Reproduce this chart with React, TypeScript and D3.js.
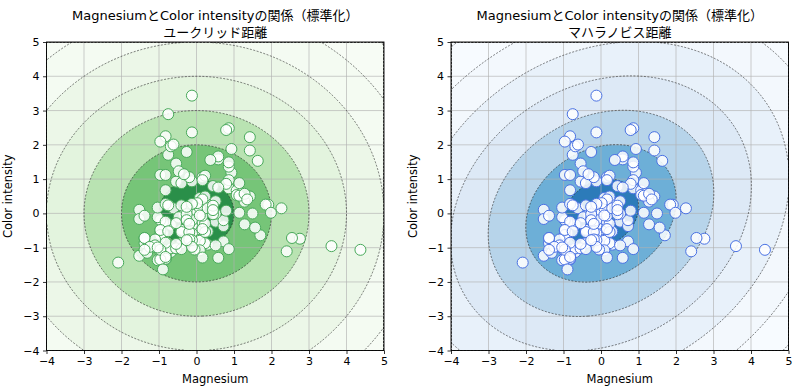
import React, { useRef, useEffect } from 'react';
import * as d3 from 'd3';

// Wine dataset (178 samples): Magnesium and Color intensity, raw values
const magnesium: number[] = [
  127, 100, 101, 113, 118, 112, 96, 121, 97, 98, 105, 95, 89, 91, 102, 112, 120, 115, 108, 116,
  126, 102, 101, 95, 96, 124, 93, 94, 107, 96, 101, 106, 104, 132, 110, 100, 110, 98, 98, 128,
  117, 90, 101, 103, 107, 111, 102, 101, 103, 108, 92, 94, 111, 115, 118, 116, 118, 102, 108,
  88, 101, 100, 94, 87, 104, 98, 78, 78, 110, 151, 103, 86, 87, 139, 101, 97, 86, 112, 136,
  101, 86, 86, 78, 85, 94, 99, 90, 88, 84, 70, 81, 86, 80, 88, 98, 162, 134, 85, 88, 88, 97,
  88, 98, 86, 85, 90, 80, 84, 92, 94, 107, 88, 103, 88, 84, 85, 86, 108, 80, 87, 96, 119, 102,
  86, 82, 85, 86, 92, 88, 80,
  122, 104, 98, 106, 85, 94, 89, 96, 88, 101, 96, 89, 97, 92, 112, 102, 80, 86, 92, 113, 123,
  112, 116, 98, 103, 93, 89, 97, 98, 89, 88, 107, 106, 106, 90, 88, 111, 88, 105, 112, 96, 86,
  91, 95, 102, 120, 120, 96,
];

const colorIntensity: number[] = [
  5.64, 4.38, 5.68, 7.8, 4.32, 6.75, 5.25, 5.05, 5.2, 7.22, 5.75, 5.0, 5.6, 5.4, 7.5, 7.3, 6.2, 6.6,
  8.7, 5.1, 5.65, 4.5, 3.8, 3.93, 3.52, 3.58, 4.8, 3.95, 4.5, 4.7, 5.7, 6.9, 3.84, 5.4, 4.2, 5.1,
  4.6, 4.25, 3.7, 5.1, 6.13, 4.28, 5.43, 4.36, 5.04, 5.24, 4.9, 6.1, 6.2, 8.9, 7.2, 5.6, 7.05, 6.3,
  5.85, 6.25, 6.38, 6.0, 6.8,
  1.95, 3.27, 5.75, 3.8, 4.45, 2.95, 4.6, 5.3, 4.68, 3.17, 2.85, 3.05, 3.38, 3.74, 3.35, 3.21, 3.8,
  4.6, 2.65, 3.4, 2.57, 2.5, 3.9, 2.2, 4.8, 3.05, 2.62, 2.45, 2.6, 2.8, 1.74, 2.4, 3.6, 3.05, 2.15,
  3.25, 2.6, 2.5, 2.9, 4.5, 2.3, 3.3, 2.45, 2.8, 2.06, 2.94, 2.7, 3.4, 3.3, 2.7, 2.65, 2.9, 2.0,
  3.8, 3.08, 2.9, 1.9, 1.95, 2.06, 3.4, 1.28, 3.25, 6.0, 2.08, 2.6, 2.8, 2.76, 3.94, 3.0, 2.12, 2.6,
  4.1, 5.4, 5.7, 5.0, 5.45, 7.1, 3.85, 5.0, 5.7, 4.92, 4.6, 5.6, 4.35, 4.4, 8.21, 4.0, 4.9, 7.65,
  8.42, 9.4, 8.6, 10.8, 7.1, 10.52, 7.6, 7.9, 9.01, 7.5, 13.0, 11.75, 7.65, 5.88, 5.58, 5.28, 9.58,
  6.62, 10.68, 10.26, 8.66, 8.5, 5.5, 9.9, 9.7, 7.7, 7.3, 10.2, 9.3, 9.2,
];

const tickValues: number[] = [-4, -3, -2, -1, 0, 1, 2, 3, 4, 5];
const levels: number[] = [1, 2, 3, 4, 5, 6, 7];
const titleLine1 = 'MagnesiumとColor intensityの関係（標準化）';
const panelTitles: string[] = ['ユークリッド距離', 'マハラノビス距離'];

const greenBands: string[] = ['#2a8f49', '#76c578', '#b9e3b2', '#e3f4de', '#ecf7e8', '#f4fbf2', '#f7fcf5', '#f7fcf5'];
const blueBands: string[] = ['#2c7bb9', '#6dafd7', '#b7d4ea', '#dde9f6', '#e8f1fa', '#f3f8fd', '#f7fbff', '#f7fbff'];

const FONT = '"DejaVu Sans", "Noto Sans CJK JP", sans-serif';

// standardize (population std, as StandardScaler)
function standardize(v: number[]): number[] {
  const m = d3.mean(v) as number;
  const s = Math.sqrt(d3.mean(v, d => (d - m) ** 2) as number);
  return v.map(d => (d - m) / s);
}

const App: React.FC = () => {
  const ref = useRef<SVGSVGElement | null>(null);

  useEffect(() => {
    const svg = d3.select(ref.current);
    svg.selectAll('*').remove();

    const xs = standardize(magnesium);
    const ys = standardize(colorIntensity);
    const n = xs.length;
    // sample covariance of standardized data
    const sxx = d3.sum(xs, d => d * d) / (n - 1);
    const syy = d3.sum(ys, d => d * d) / (n - 1);
    const sxy = d3.sum(xs.map((d, i) => d * ys[i])) / (n - 1);
    const det = sxx * syy - sxy * sxy;
    const ixx = syy / det, iyy = sxx / det, ixy = -sxy / det;

    const euclid = (x: number, y: number) => Math.sqrt(x * x + y * y);
    const mahal = (x: number, y: number) => Math.sqrt(ixx * x * x + 2 * ixy * x * y + iyy * y * y);

    const panels = [
      { left: 46.5, dist: euclid, bands: greenBands, edge: '#48a95a', sub: panelTitles[0] },
      { left: 451, dist: mahal, bands: blueBands, edge: '#4a72e3', sub: panelTitles[1] },
    ];
    const top = 42;
    const w = 337.5;
    const h = 308.5;

    panels.forEach((p, pi) => {
      const x = d3.scaleLinear().domain([-4, 5]).range([p.left, p.left + w]);
      const y = d3.scaleLinear().domain([-4, 5]).range([top + h, top]);
      const g = svg.append('g');
      const clipId = `clip${pi}`;
      g.append('clipPath').attr('id', clipId)
        .append('rect').attr('x', p.left).attr('y', top).attr('width', w).attr('height', h);

      // distance field on pixel grid
      const nx = Math.round(w), ny = Math.round(h);
      const values = new Array(nx * ny);
      for (let j = 0; j < ny; j++) {
        for (let i = 0; i < nx; i++) {
          values[j * nx + i] = p.dist(x.invert(p.left + (i + 0.5) * w / nx), y.invert(top + (j + 0.5) * h / ny));
        }
      }
      const contours = d3.contours().size([nx, ny]).thresholds(levels)(values);
      const proj = d3.geoTransform({
        point(px: number, py: number) {
          this.stream.point(p.left + px * w / nx, top + py * h / ny);
        },
      });
      const path = d3.geoPath(proj);

      const cg = g.append('g').attr('clip-path', `url(#${clipId})`);
      cg.append('rect').attr('x', p.left).attr('y', top).attr('width', w).attr('height', h)
        .attr('fill', p.bands[0]);
      cg.selectAll('path.band').data(contours).enter().append('path')
        .attr('class', 'band')
        .attr('d', d => path(d as any) as string)
        .attr('fill', (d, i) => p.bands[i + 1]);

      // grid
      const gg = cg.append('g');
      tickValues.forEach(t => {
        gg.append('line').attr('x1', x(t)).attr('x2', x(t)).attr('y1', top).attr('y2', top + h)
          .attr('stroke', '#b0b0b0').attr('stroke-width', 0.8).attr('stroke-opacity', 0.8);
        gg.append('line').attr('x1', p.left).attr('x2', p.left + w).attr('y1', y(t)).attr('y2', y(t))
          .attr('stroke', '#b0b0b0').attr('stroke-width', 0.8).attr('stroke-opacity', 0.8);
      });

      // dashed contour lines
      cg.selectAll('path.line').data(contours).enter().append('path')
        .attr('class', 'line')
        .attr('d', d => path(d as any) as string)
        .attr('fill', 'none')
        .attr('stroke', '#222')
        .attr('stroke-width', 0.6)
        .attr('stroke-dasharray', '2,1.5');

      // points
      cg.selectAll('circle').data(xs.map((d, i) => [d, ys[i]])).enter().append('circle')
        .attr('cx', d => x(d[0]))
        .attr('cy', d => y(d[1]))
        .attr('r', 5.5)
        .attr('fill', '#ffffff')
        .attr('fill-opacity', 0.85)
        .attr('stroke', p.edge)
        .attr('stroke-width', 1);

      // frame
      g.append('rect').attr('x', p.left).attr('y', top).attr('width', w).attr('height', h)
        .attr('fill', 'none').attr('stroke', '#000').attr('stroke-width', 0.9);

      // axes
      const xAxis = d3.axisBottom(x).tickValues(tickValues).tickSize(3.5).tickPadding(3.5)
        .tickFormat(d => String(d).replace('-', '\u2212'));
      const yAxis = d3.axisLeft(y).tickValues(tickValues).tickSize(3.5).tickPadding(3.5)
        .tickFormat(d => String(d).replace('-', '\u2212'));
      const ax = g.append('g').attr('transform', `translate(0,${top + h})`).call(xAxis);
      const ay = g.append('g').attr('transform', `translate(${p.left},0)`).call(yAxis);
      [ax, ay].forEach(a => {
        a.select('.domain').remove();
        a.selectAll('line').attr('stroke', '#000').attr('stroke-width', 0.8);
        a.selectAll('text').attr('font-family', FONT).attr('font-size', 11).attr('fill', '#000');
      });

      g.append('text').attr('x', p.left + w / 2).attr('y', 382.5)
        .attr('text-anchor', 'middle').attr('font-family', FONT).attr('font-size', 11.5)
        .text('Magnesium');
      g.append('text')
        .attr('transform', `translate(${p.left - 34.5},${top + h / 2}) rotate(-90)`)
        .attr('text-anchor', 'middle').attr('font-family', FONT).attr('font-size', 11.5)
        .text('Color intensity');

      g.append('text').attr('x', p.left + w / 2).attr('y', 20)
        .attr('text-anchor', 'middle').attr('font-family', FONT).attr('font-size', 13)
        .text(titleLine1);
      g.append('text').attr('x', p.left + w / 2).attr('y', 36.5)
        .attr('text-anchor', 'middle').attr('font-family', FONT).attr('font-size', 13)
        .text(p.sub);
    });
  }, []);

  return (
    <svg ref={ref} width={800} height={392}
      style={{ position: 'absolute', left: 0, top: 0, background: '#fff' }} />
  );
};

export default App;
